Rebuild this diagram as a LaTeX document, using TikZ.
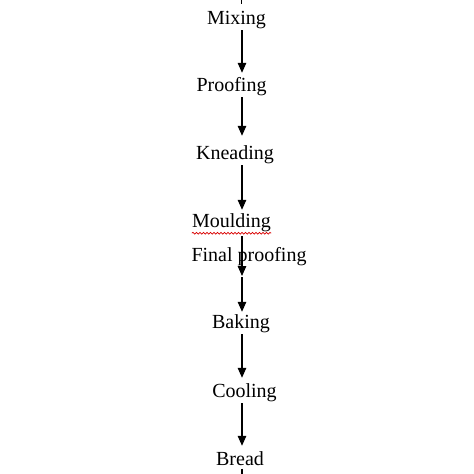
\documentclass[tikz,border=0pt]{standalone}
\usepackage{fontspec}
\setmainfont{Liberation Serif}
\usetikzlibrary{arrows.meta,decorations.pathmorphing}
\begin{document}
\begin{tikzpicture}[x=1pt,y=-1pt,
  lbl/.style={inner sep=0pt,anchor=base,text height=14pt,text depth=5pt,font=\fontsize{20}{24}\selectfont},
  arr/.style={line width=1.3pt,-{Triangle[width=8.5pt,length=10pt]},shorten <=1pt},
  stub/.style={line width=1.2pt},
  spell/.style={red!85!black,line width=0.7pt,decorate,decoration={snake,amplitude=0.9pt,segment length=3.5pt}}]
\useasboundingbox (0,0) rectangle (474,474);
\coordinate (ax) at (242,0);
\node[lbl] (mix) at (236.5,24) {Mixing};
\node[lbl] (proof) at (231.5,91) {Proofing};
\node[lbl] (knead) at (235,159) {Kneading};
\node[lbl] (mould) at (231.5,227) {Moulding};
\node[lbl] (final) at (249,261) {Final proofing};
\node[lbl] (bake) at (241,328) {Baking};
\node[lbl] (cool) at (244.5,397) {Cooling};
\node[lbl] (bread) at (240,465) {Bread};
\coordinate (topA) at (241.5,0);
\coordinate (topB) at (241.5,3.5);
\coordinate (mid) at (242,276);
\coordinate (botA) at (242,468.5);
\coordinate (botB) at (242,474);
\draw[stub] (topA) -- (topB);
\draw[stub] (botA) -- (botB);
\draw[arr,shorten >=4pt] (mix.south -| ax) -- (proof.north -| ax);
\draw[arr,shorten >=9pt] (proof.south -| ax) -- (knead.north -| ax);
\draw[arr,shorten >=3pt] (knead.south -| ax) -- (mould.north -| ax);
\draw[arr,shorten <=4pt] (mould.south -| ax) -- (mid);
\draw[arr,shorten >=2pt] (mid) -- (bake.north -| ax);
\draw[arr,shorten >=5pt] (bake.south -| ax) -- (cool.north -| ax);
\draw[arr,shorten >=5pt] (cool.south -| ax) -- (bread.north -| ax);
\draw[spell] ([yshift=-1pt]mould.south west) -- ([yshift=-1pt]mould.south east);
\end{tikzpicture}
\end{document}
